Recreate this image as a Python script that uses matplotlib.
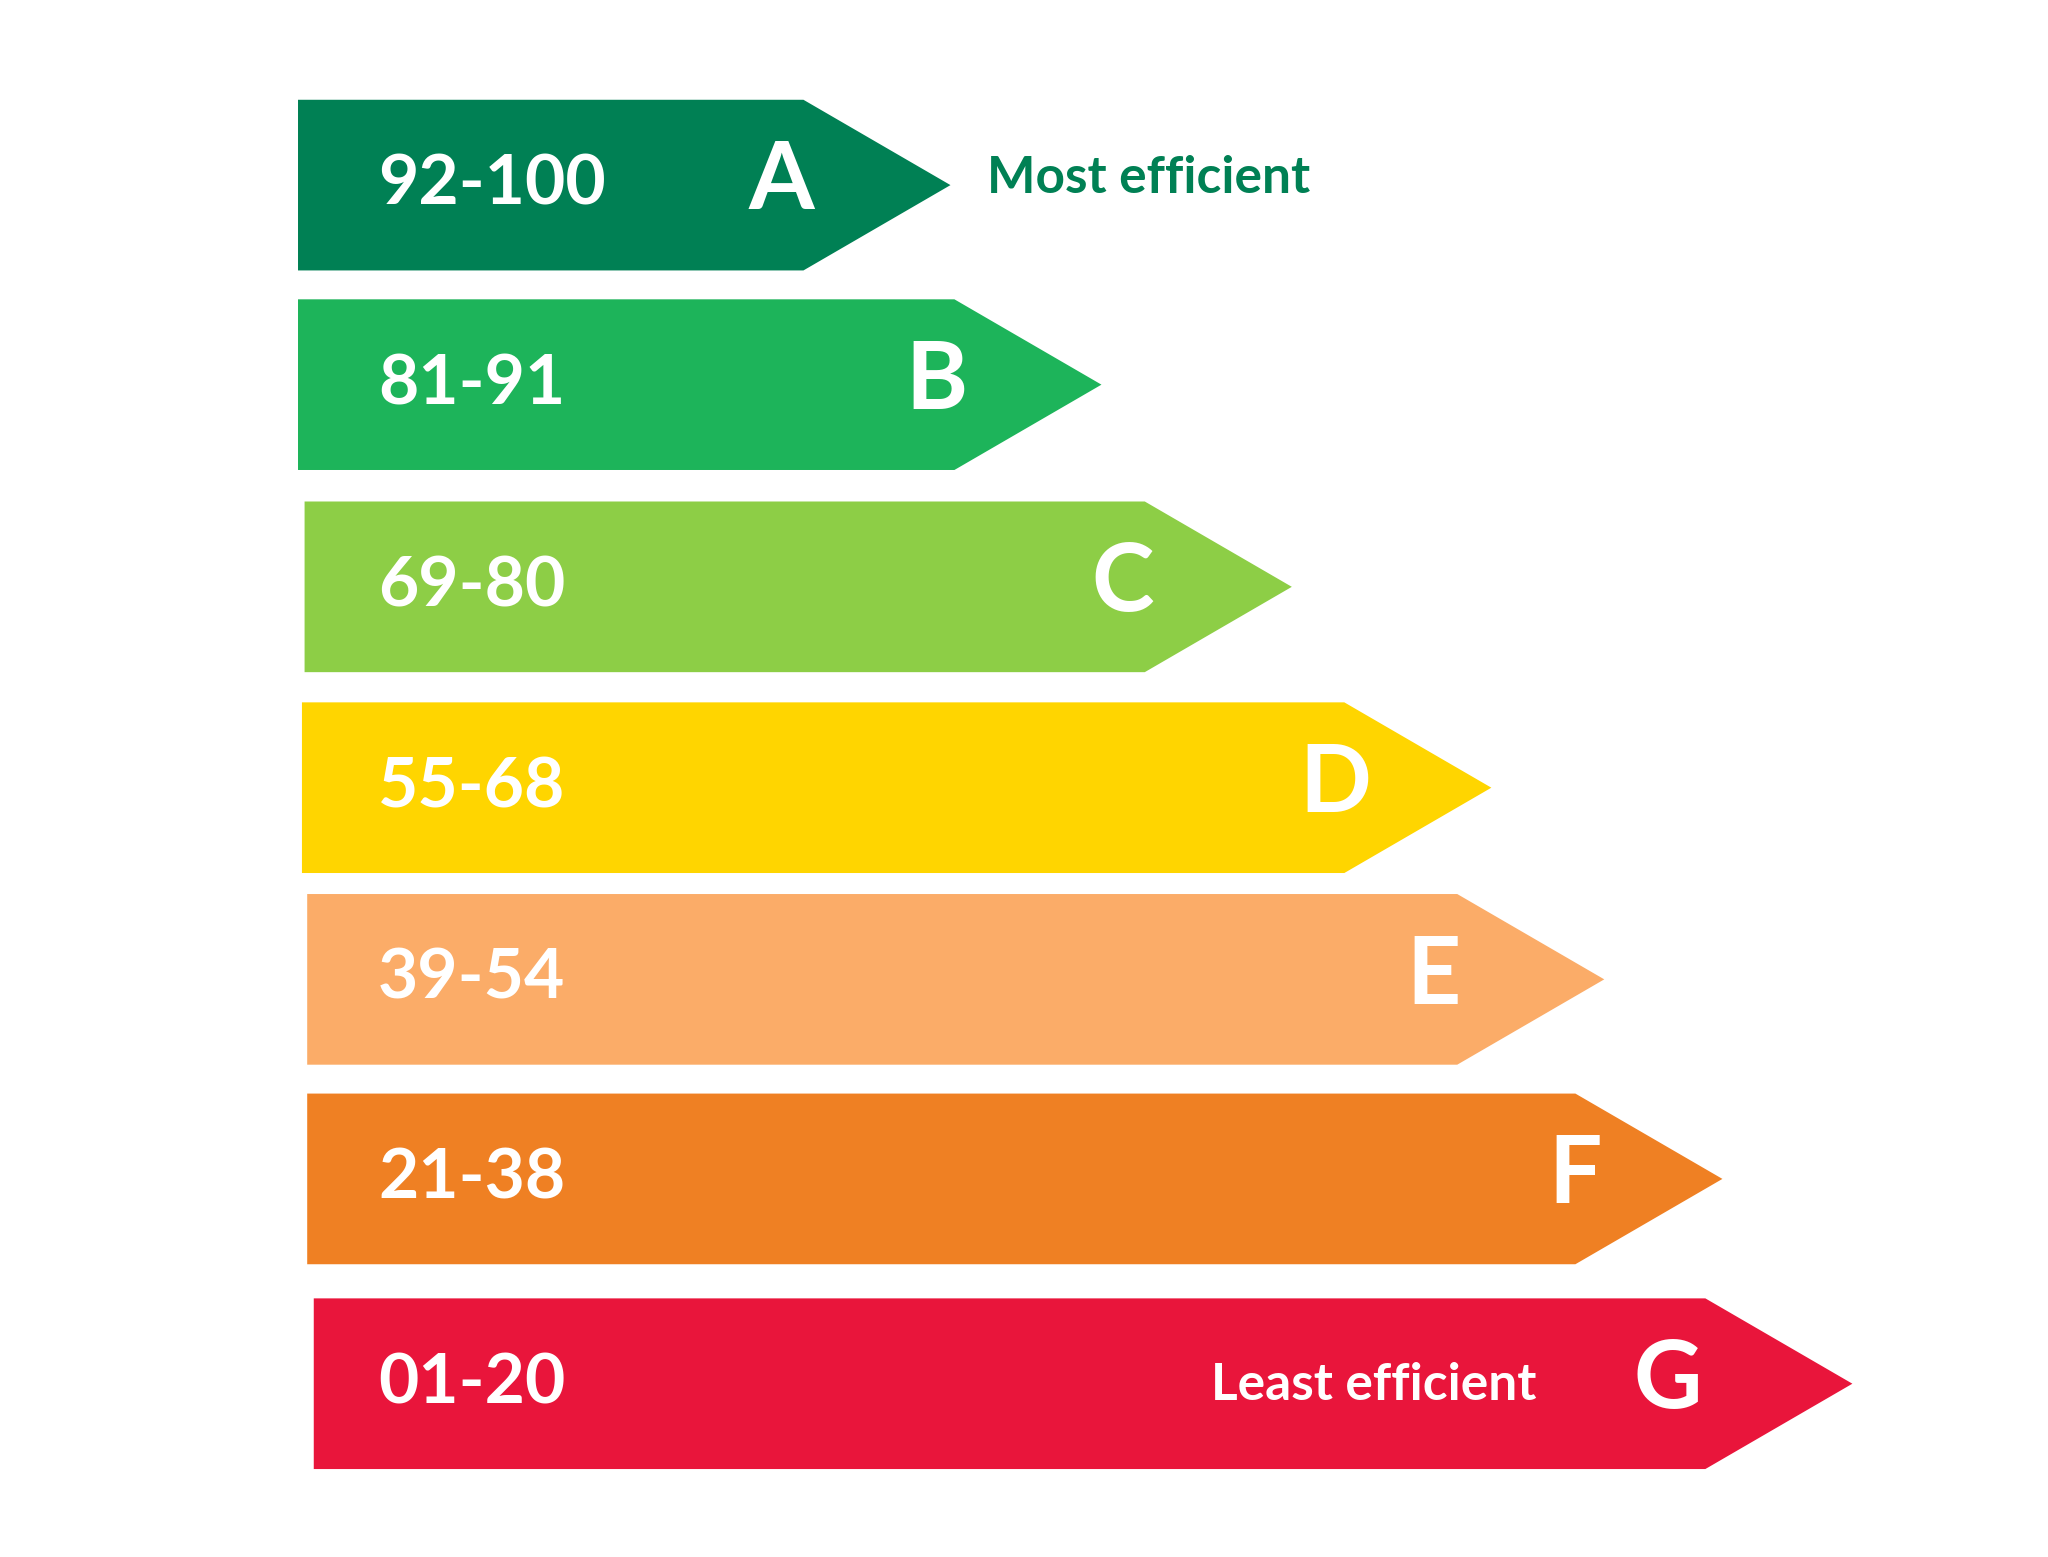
import matplotlib.pyplot as plt
from matplotlib.patches import Polygon

ratings = ['A', 'B', 'C', 'D', 'E', 'F', 'G']
ranges = ['92-100', '81-91', '69-80', '55-68', '39-54', '21-38', '01-20']
colors = ['#008054', '#1db45a', '#8dce46', '#ffd500', '#fbac68', '#ef8023', '#e9153b']
# bar geometry in reference pixel units (display scale 1560 wide)
left = [227, 227, 232, 230, 234, 234, 239]
body_end = [612, 727, 872, 1024, 1110, 1200, 1299]
top = [76, 228, 382, 535, 681, 833, 989]
letter_x = [595, 713, 855, 1017, 1092, 1200, 1270]
H = 130
TIP = 112

fig = plt.figure(figsize=(20.48, 15.57), dpi=100)
ax = fig.add_axes([0, 0, 1, 1])
ax.set_xlim(0, 1560)
ax.set_ylim(1186, 0)
ax.axis('off')

font = ['Lato', 'DejaVu Sans']
for i, r in enumerate(ratings):
    y0, y1 = top[i], top[i] + H
    ym = (y0 + y1) / 2
    pts = [(left[i], y0), (body_end[i], y0), (body_end[i] + TIP, ym),
           (body_end[i], y1), (left[i], y1)]
    ax.add_patch(Polygon(pts, closed=True, color=colors[i], lw=0))
    ax.text(288, ym, ranges[i], color='white', fontsize=50, fontweight='bold',
            family=font, va='center', ha='left')
    ax.text(letter_x[i], ym - 2, r, color='white', fontsize=68, fontweight='bold',
            family=font, va='center', ha='center')

ax.text(752, 136, 'Most efficient', color='#008054', fontsize=37, fontweight='bold',
        family=font, va='center', ha='left')
ax.text(1170, 1055, 'Least efficient', color='white', fontsize=37, fontweight='bold',
        family=font, va='center', ha='right')

fig.savefig('out.png', dpi=100, facecolor='white')
